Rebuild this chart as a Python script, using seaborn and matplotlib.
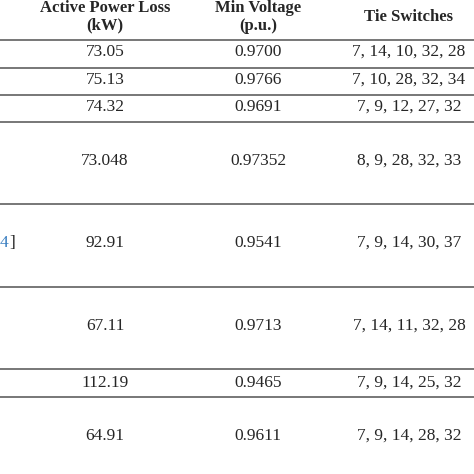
import matplotlib
matplotlib.use("Agg")
import matplotlib.pyplot as plt
import seaborn as sns

sns.set_style("white")
plt.rcParams['font.family'] = ['Liberation Serif', 'DejaVu Serif']

headers = ["Active Power Loss\n(kW)", "Min Voltage\n(p.u.)", "Tie Switches"]
power_loss = ["73.05", "75.13", "74.32", "73.048", "92.91", "67.11", "112.19", "64.91"]
min_voltage = ["0.9700", "0.9766", "0.9691", "0.97352", "0.9541", "0.9713", "0.9465", "0.9611"]
tie_switches = ["7, 14, 10, 32, 28", "7, 10, 28, 32, 34", "7, 9, 12, 27, 32",
                "8, 9, 28, 32, 33", "7, 9, 14, 30, 37", "7, 14, 11, 32, 28",
                "7, 9, 14, 25, 32", "7, 9, 14, 28, 32"]

# layout in pixel coordinates
row_y = [52, 80, 107, 161, 243, 326, 383, 436]
rule_y = [40, 68, 95, 122, 204, 287, 369, 397]
col_x = [105, 258, 409]

fig = plt.figure(figsize=(4.74, 4.74), dpi=100)
ax = fig.add_axes([0, 0, 1, 1])
ax.set_xlim(0, 474)
ax.set_ylim(474, 0)
ax.axis("off")

ax.text(col_x[0], 17, headers[0], ha="center", va="center", fontsize=12, fontweight="bold", linespacing=1.1)
ax.text(col_x[1], 17, headers[1], ha="center", va="center", fontsize=12, fontweight="bold", linespacing=1.1)
ax.text(col_x[2], 17, headers[2], ha="center", va="center", fontsize=12, fontweight="bold")

for y in rule_y:
    ax.axhline(y, color="#777777", lw=1.4)

for i, y in enumerate(row_y):
    ax.text(col_x[0], y, power_loss[i], ha="center", va="center", fontsize=12.5)
    ax.text(col_x[1], y, min_voltage[i], ha="center", va="center", fontsize=12.5)
    ax.text(col_x[2], y, tie_switches[i], ha="center", va="center", fontsize=12.5)

ax.text(0, row_y[4], "4", ha="left", va="center", fontsize=12.5, color="#3a7fc1")
ax.text(9, row_y[4], "]", ha="left", va="center", fontsize=12.5)

fig.savefig("out.png", dpi=100)
